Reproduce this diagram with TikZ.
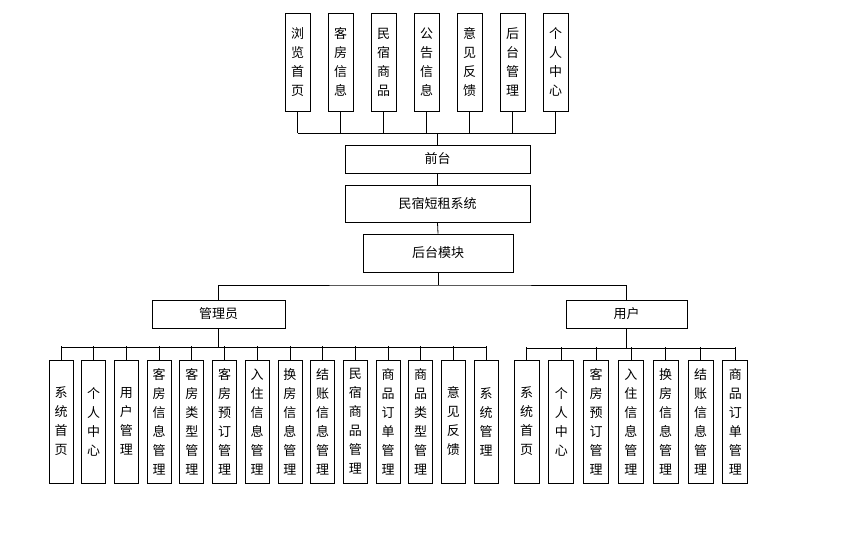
\documentclass[tikz,border=0pt]{standalone}
\usepackage{fontspec}
\setmainfont{Noto Sans CJK SC}
\begin{document}
\begin{tikzpicture}[x=1pt,y=-1pt,
  box/.style={draw,line width=0.8pt,inner sep=0pt,align=center,font=\fontsize{13}{19}\selectfont},
  vbox/.style={box,minimum width=25pt},
  hbox/.style={box,minimum height=28pt},
  ln/.style={line width=0.8pt}]
\useasboundingbox (0,0) rectangle (866,543);
% top boxes
\foreach \t [count=\i] in {浏\\览\\首\\页,客\\房\\信\\息,民\\宿\\商\\品,公\\告\\信\\息,意\\见\\反\\馈,后\\台\\管\\理,个\\人\\中\\心}{
  \node[vbox,minimum height=98pt] (t\i) at ({297.5+43*(\i-1)},62) {\t};
  \draw[ln] (t\i.south) -- ++(0,22);
}
\draw[ln] (297.5,133) -- (555.5,133);
\node[hbox,minimum width=185pt] (qt) at (437.5,159) {前台};
\node[hbox,minimum width=185pt,minimum height=37pt] (sys) at (437.5,204) {民宿短租系统};
\node[hbox,minimum width=150pt,minimum height=38pt] (ht) at (438,253) {后台模块};
\draw[ln] (437.5,133) -- (qt.north);
\draw[ln] (qt) -- (sys);
\draw[ln] (sys.south) -- (ht.north);
\coordinate (bb) at (438,285);
\draw[ln] (ht.south) -- (bb);
\node[hbox,minimum width=133pt] (adm) at (218.5,314) {管理员};
\node[hbox,minimum width=121pt] (usr) at (626.5,314) {用户};
\draw[ln] (adm.north) |- (bb) -| (usr.north);
% admin children
\foreach \t [count=\i] in {系\\统\\首\\页,个\\人\\中\\心,用\\户\\管\\理,客\\房\\信\\息\\管\\理,客\\房\\类\\型\\管\\理,客\\房\\预\\订\\管\\理,入\\住\\信\\息\\管\\理,换\\房\\信\\息\\管\\理,结\\账\\信\\息\\管\\理,民\\宿\\商\\品\\管\\理,商\\品\\订\\单\\管\\理,商\\品\\类\\型\\管\\理,意\\见\\反\\馈,系\\统\\管\\理}{
  \node[vbox,minimum width=24pt,minimum height=123pt] (a\i) at ({61+32.7*(\i-1)},421.5) {\t};
  \draw[ln] (a\i.north) -- ++(0,-14);
}
\draw[ln] (61,347.5) -- (486,347.5);
\draw[ln] (adm.south) -- (218.5,347.5);
% user children
\foreach \t [count=\i] in {系\\统\\首\\页,个\\人\\中\\心,客\\房\\预\\订\\管\\理,入\\住\\信\\息\\管\\理,换\\房\\信\\息\\管\\理,结\\账\\信\\息\\管\\理,商\\品\\订\\单\\管\\理}{
  \node[vbox,minimum height=123pt] (u\i) at ({526.5+34.8*(\i-1)},421.5) {\t};
  \draw[ln] (u\i.north) -- ++(0,-13);
}
\draw[ln] (526.5,348) -- (735.3,348);
\draw[ln] (usr.south) -- (626.5,348);
\end{tikzpicture}
\end{document}
